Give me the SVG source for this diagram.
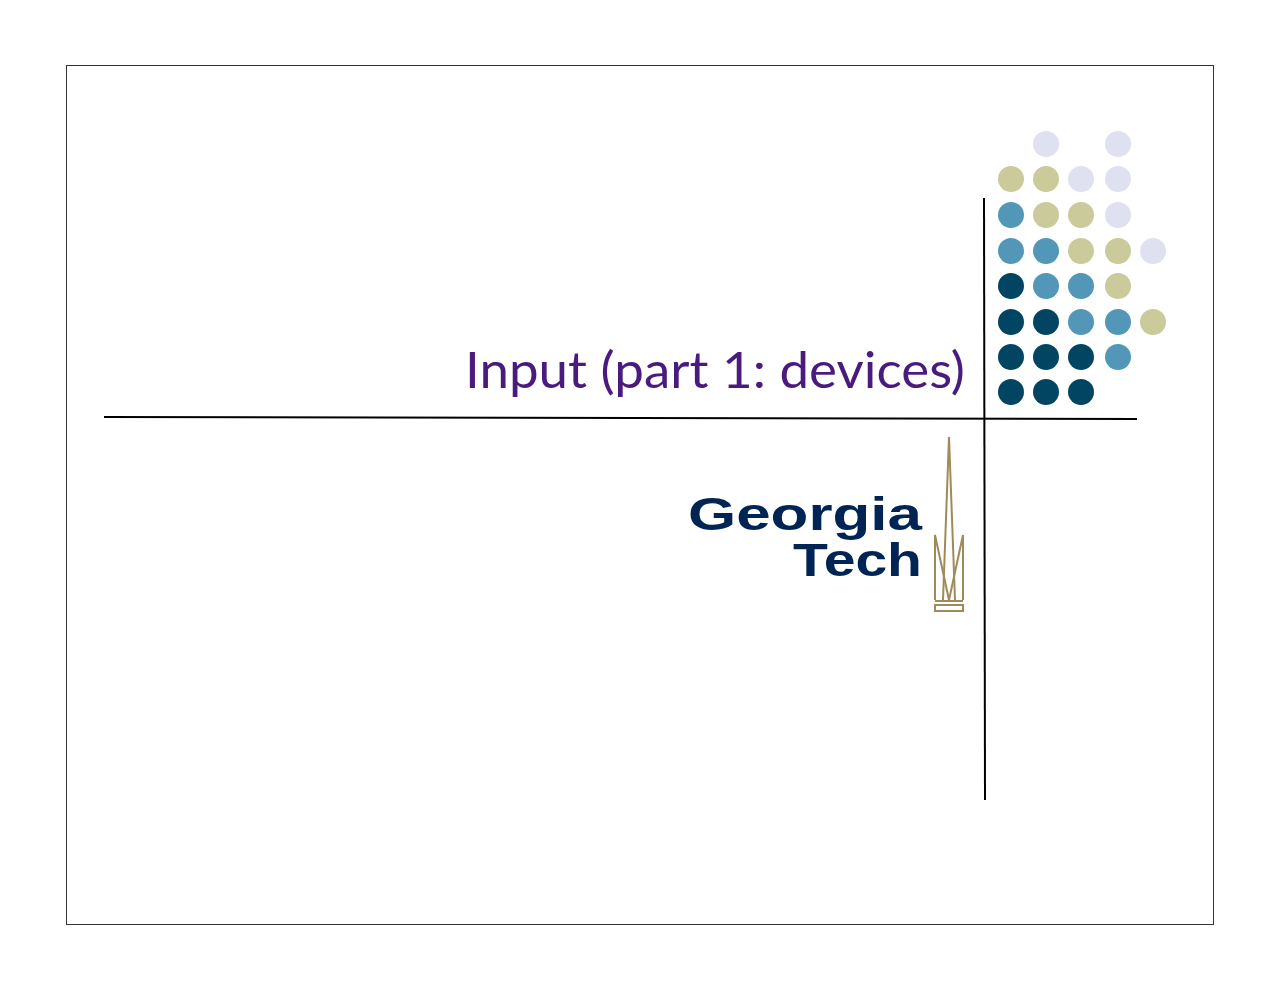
<svg xmlns="http://www.w3.org/2000/svg" width="1280" height="989" viewBox="0 0 1280 989">
<style>.L{fill:#e0e1f0}.K{fill:#cbca9a}.B{fill:#5297b8}.D{fill:#024563}.g{fill:none;stroke:#a08a5a;stroke-width:2}</style>
<rect width="1280" height="989" fill="#fff"/>
<rect x="66.5" y="65.5" width="1147" height="859" fill="none" stroke="#333" stroke-width="1"/>
<g id="dots">
<circle class="L" cx="1046" cy="144" r="13"/><circle class="L" cx="1118" cy="144" r="13"/>
<circle class="K" cx="1011" cy="179" r="13"/><circle class="K" cx="1046" cy="179" r="13"/><circle class="L" cx="1081" cy="179" r="13"/><circle class="L" cx="1118" cy="179" r="13"/>
<circle class="B" cx="1011" cy="215" r="13"/><circle class="K" cx="1046" cy="215" r="13"/><circle class="K" cx="1081" cy="215" r="13"/><circle class="L" cx="1118" cy="215" r="13"/>
<circle class="B" cx="1011" cy="251" r="13"/><circle class="B" cx="1046" cy="251" r="13"/><circle class="K" cx="1081" cy="251" r="13"/><circle class="K" cx="1118" cy="251" r="13"/><circle class="L" cx="1153" cy="251" r="13"/>
<circle class="D" cx="1011" cy="286" r="13"/><circle class="B" cx="1046" cy="286" r="13"/><circle class="B" cx="1081" cy="286" r="13"/><circle class="K" cx="1118" cy="286" r="13"/>
<circle class="D" cx="1011" cy="322" r="13"/><circle class="D" cx="1046" cy="322" r="13"/><circle class="B" cx="1081" cy="322" r="13"/><circle class="B" cx="1118" cy="322" r="13"/><circle class="K" cx="1153" cy="322" r="13"/>
<circle class="D" cx="1011" cy="357" r="13"/><circle class="D" cx="1046" cy="357" r="13"/><circle class="D" cx="1081" cy="357" r="13"/><circle class="B" cx="1118" cy="357" r="13"/>
<circle class="D" cx="1011" cy="392" r="13"/><circle class="D" cx="1046" cy="392" r="13"/><circle class="D" cx="1081" cy="392" r="13"/>
</g>
<g id="rules" stroke="#000" stroke-width="2">
<line x1="104" y1="417" x2="1137" y2="419"/>
<line x1="984" y1="198" x2="985" y2="800"/>
</g>
<text id="title" x="965" y="388" text-anchor="end" font-family="Lato, 'Open Sans', sans-serif" font-size="50" fill="#4b1a7d" textLength="500" lengthAdjust="spacingAndGlyphs">Input (part 1: devices)</text>
<g id="logo">
<text x="922" y="530" text-anchor="end" font-family="'Liberation Sans', Arial, sans-serif" font-weight="bold" font-size="47" fill="#002454" textLength="234" lengthAdjust="spacingAndGlyphs">Georgia</text>
<text x="922" y="576" text-anchor="end" font-family="'Liberation Sans', Arial, sans-serif" font-weight="bold" font-size="47" fill="#002454" textLength="129" lengthAdjust="spacingAndGlyphs">Tech</text>
<polyline class="g" points="943,600 949,437 955,600"/>
<polyline class="g" points="935,600 935,535 949,600 963,535 963,600"/>
<line class="g" x1="935" y1="601" x2="963" y2="601"/>
<rect class="g" x="935" y="605" width="28" height="6"/>
</g>
</svg>
